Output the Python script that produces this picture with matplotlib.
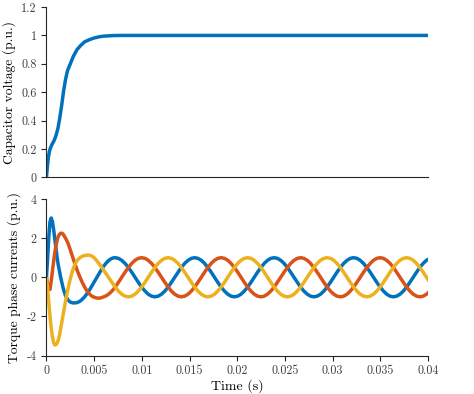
import matplotlib
matplotlib.use("Agg")
import matplotlib.pyplot as plt
from matplotlib.ticker import FormatStrFormatter

plt.rcParams['font.family'] = 'cmr10'
plt.rcParams['axes.unicode_minus'] = False
plt.rcParams['mathtext.fontset'] = 'cm'

# capacitor voltage (p.u.)
t_volt = [0, 0.0001, 0.0002, 0.0003, 0.0004, 0.0006, 0.0008, 0.001, 0.0012, 0.0014,
          0.0016, 0.0018, 0.002, 0.0022, 0.0025, 0.0028, 0.0032, 0.0036, 0.004, 0.0045,
          0.005, 0.0055, 0.006, 0.007, 0.008, 0.01, 0.04]
volt = [0, 0.08, 0.14, 0.18, 0.205, 0.235, 0.26, 0.295, 0.345, 0.42,
        0.51, 0.61, 0.69, 0.75, 0.8, 0.85, 0.9, 0.93, 0.955, 0.97,
        0.982, 0.99, 0.995, 0.999, 1.0, 1.0, 1.0]

# phase currents, start-up transient
t_start = [0, 0.000125, 0.00025, 0.000375, 0.0005, 0.000625, 0.00075, 0.000875, 0.001,
           0.001125, 0.00125, 0.001375, 0.0015, 0.001625, 0.00175, 0.001875, 0.002,
           0.00225, 0.0025, 0.00275, 0.003, 0.00325, 0.0035, 0.00375, 0.004, 0.00425,
           0.0045, 0.00475, 0.005, 0.00525, 0.0055, 0.00575, 0.006, 0.00625, 0.0065,
           0.00675, 0.007]
ia_start = [0, 1.0, 2.1, 2.85, 3.03, 2.85, 2.45, 1.95, 1.42, 0.98, 0.6, 0.27, -0.03, -0.3,
            -0.55, -0.76, -0.94,
            -1.16, -1.27, -1.31, -1.31, -1.29, -1.23, -1.13, -1.0, -0.84, -0.66, -0.45,
            -0.24, -0.03, 0.19, 0.38, 0.57, 0.72, 0.85, 0.94, 0.99]
ib_start = [0, -0.35, -0.6, -0.62, -0.2, 0.3, 0.8, 1.25, 1.62, 1.9, 2.1, 2.2, 2.25, 2.25,
            2.2, 2.1, 2.0,
            1.75, 1.4, 1.03, 0.66, 0.32, 0.02, -0.26, -0.5, -0.7, -0.85, -0.96, -1.02,
            -1.06, -1.07, -1.05, -1.0, -0.95, -0.87, -0.76, -0.63]
ic_start = [0, -0.6, -1.3, -2.0, -2.6, -3.05, -3.33, -3.46, -3.45, -3.35, -3.2, -2.95,
            -2.6, -2.25, -1.9, -1.55, -1.22,
            -0.6, -0.08, 0.36, 0.68, 0.88, 1.0, 1.07, 1.11, 1.13, 1.13, 1.09, 1.0, 0.86,
            0.7, 0.54, 0.36, 0.18, 0.0, -0.19, -0.37]

# phase currents, steady state
t_steady = [0.0072, 0.00755, 0.00789, 0.00824, 0.00859, 0.00894, 0.00928, 0.00963, 0.00998, 0.01033, 0.01067, 0.01102,
            0.01137, 0.01171, 0.01206, 0.01241, 0.01276, 0.0131, 0.01345, 0.0138, 0.01414, 0.01449, 0.01484, 0.01519,
            0.01553, 0.01588, 0.01623, 0.01658, 0.01692, 0.01727, 0.01762, 0.01796, 0.01831, 0.01866, 0.01901, 0.01935,
            0.0197, 0.02005, 0.02039, 0.02074, 0.02109, 0.02144, 0.02178, 0.02213, 0.02248, 0.02283, 0.02317, 0.02352,
            0.02387, 0.02421, 0.02456, 0.02491, 0.02526, 0.0256, 0.02595, 0.0263, 0.02664, 0.02699, 0.02734, 0.02769,
            0.02803, 0.02838, 0.02873, 0.02908, 0.02942, 0.02977, 0.03012, 0.03046, 0.03081, 0.03116, 0.03151, 0.03185,
            0.0322, 0.03255, 0.03289, 0.03324, 0.03359, 0.03394, 0.03428, 0.03463, 0.03498, 0.03533, 0.03567, 0.03602,
            0.03637, 0.03671, 0.03706, 0.03741, 0.03776, 0.0381, 0.03845, 0.0388, 0.03914, 0.03949, 0.03984, 0.04019]
ia_steady = [1, 0.966, 0.866, 0.707, 0.5, 0.259, 0, -0.259, -0.5, -0.707, -0.866, -0.966,
             -1, -0.966, -0.866, -0.707, -0.5, -0.259, 0, 0.259, 0.5, 0.707, 0.866, 0.966,
             1, 0.966, 0.866, 0.707, 0.5, 0.259, 0, -0.259, -0.5, -0.707, -0.866, -0.966,
             -1, -0.966, -0.866, -0.707, -0.5, -0.259, 0, 0.259, 0.5, 0.707, 0.866, 0.966,
             1, 0.966, 0.866, 0.707, 0.5, 0.259, 0, -0.259, -0.5, -0.707, -0.866, -0.966,
             -1, -0.966, -0.866, -0.707, -0.5, -0.259, 0, 0.259, 0.5, 0.707, 0.866, 0.966,
             1, 0.966, 0.866, 0.707, 0.5, 0.259, 0, -0.259, -0.5, -0.707, -0.866, -0.966,
             -1, -0.966, -0.866, -0.707, -0.5, -0.259, 0, 0.259, 0.5, 0.707, 0.866, 0.966]
ib_steady = [-0.5, -0.259, 0, 0.259, 0.5, 0.707, 0.866, 0.966, 1, 0.966, 0.866, 0.707,
             0.5, 0.259, 0, -0.259, -0.5, -0.707, -0.866, -0.966, -1, -0.966, -0.866, -0.707,
             -0.5, -0.259, 0, 0.259, 0.5, 0.707, 0.866, 0.966, 1, 0.966, 0.866, 0.707,
             0.5, 0.259, 0, -0.259, -0.5, -0.707, -0.866, -0.966, -1, -0.966, -0.866, -0.707,
             -0.5, -0.259, 0, 0.259, 0.5, 0.707, 0.866, 0.966, 1, 0.966, 0.866, 0.707,
             0.5, 0.259, 0, -0.259, -0.5, -0.707, -0.866, -0.966, -1, -0.966, -0.866, -0.707,
             -0.5, -0.259, 0, 0.259, 0.5, 0.707, 0.866, 0.966, 1, 0.966, 0.866, 0.707,
             0.5, 0.259, 0, -0.259, -0.5, -0.707, -0.866, -0.966, -1, -0.966, -0.866, -0.707]
ic_steady = [-0.5, -0.707, -0.866, -0.966, -1, -0.966, -0.866, -0.707, -0.5, -0.259, 0, 0.259,
             0.5, 0.707, 0.866, 0.966, 1, 0.966, 0.866, 0.707, 0.5, 0.259, 0, -0.259,
             -0.5, -0.707, -0.866, -0.966, -1, -0.966, -0.866, -0.707, -0.5, -0.259, 0, 0.259,
             0.5, 0.707, 0.866, 0.966, 1, 0.966, 0.866, 0.707, 0.5, 0.259, 0, -0.259,
             -0.5, -0.707, -0.866, -0.966, -1, -0.966, -0.866, -0.707, -0.5, -0.259, 0, 0.259,
             0.5, 0.707, 0.866, 0.966, 1, 0.966, 0.866, 0.707, 0.5, 0.259, 0, -0.259,
             -0.5, -0.707, -0.866, -0.966, -1, -0.966, -0.866, -0.707, -0.5, -0.259, 0, 0.259,
             0.5, 0.707, 0.866, 0.966, 1, 0.966, 0.866, 0.707, 0.5, 0.259, 0, -0.259]

volt_ticks = [0, 0.2, 0.4, 0.6, 0.8, 1, 1.2]
cur_ticks = [-4, -2, 0, 2, 4]
time_ticks = [0, 0.005, 0.01, 0.015, 0.02, 0.025, 0.03, 0.035, 0.04]

colors = ['#0072BD', '#D95319', '#EDB120']
axis_col = '#262626'
tick_col = '#404040'
lw = 2.5

t_cur = t_start + t_steady
currents = [ia_start + ia_steady, ib_start + ib_steady, ic_start + ic_steady]

fig = plt.figure(figsize=(4.74, 3.94), dpi=100)
ax1 = fig.add_axes([0.098, 0.5495, 0.805, 0.4327])
ax2 = fig.add_axes([0.098, 0.0977, 0.805, 0.3972])

ax1.plot(t_volt, volt, color=colors[0], lw=lw, solid_capstyle='butt')
ax1.set_xlim(0, 0.04)
ax1.set_ylim(0, 1.2)
ax1.set_yticks(volt_ticks)
ax1.set_xticks([])
ax1.set_ylabel('Capacitor voltage (p.u.)', fontsize=9.8, color='black', labelpad=4)

for i, cur in enumerate(currents):
    ax2.plot(t_cur, cur, color=colors[i], lw=lw, solid_capstyle='butt')
ax2.set_xlim(0, 0.04)
ax2.set_ylim(-4, 4)
ax2.set_yticks(cur_ticks)
ax2.set_xticks(time_ticks)
ax2.xaxis.set_major_formatter(FormatStrFormatter('%g'))
ax2.set_ylabel('Torque phase currents (p.u.)', fontsize=9.8, color='black', labelpad=4)
ax2.set_xlabel('Time (s)', fontsize=10, color='black', labelpad=1)

for ax in (ax1, ax2):
    ax.yaxis.set_major_formatter(FormatStrFormatter('%g'))
    ax.spines['top'].set_visible(False)
    ax.spines['right'].set_visible(False)
    for s in ('left', 'bottom'):
        ax.spines[s].set_color(axis_col)
        ax.spines[s].set_linewidth(0.8)
    ax.tick_params(direction='out', length=3.5, width=0.8, color=axis_col,
                   labelsize=8.7, labelcolor=tick_col, pad=3.5)

fig.savefig('out.png', dpi=100)
